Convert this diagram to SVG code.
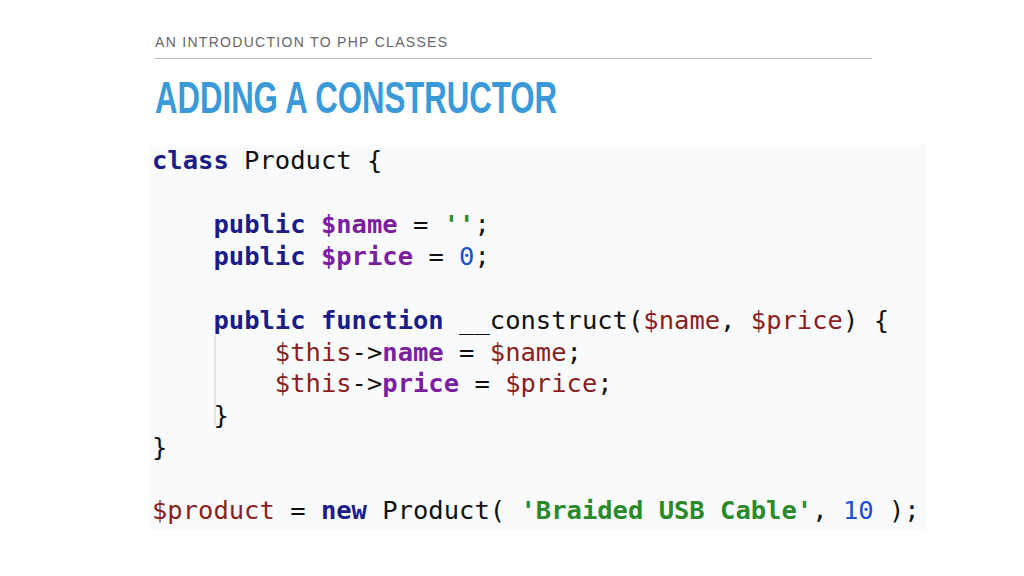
<svg xmlns="http://www.w3.org/2000/svg" width="1024" height="576" viewBox="0 0 1024 576">
<style>
.c{font-family:"DejaVu Sans Mono","Liberation Mono",monospace;font-size:25.5px;fill:#111;white-space:pre}
.k{fill:#1c1c86;font-weight:bold}
.v{fill:#7a1fa0;font-weight:bold}
.t{fill:#8a1f1f}
.s{fill:#2a8a2a;font-weight:bold}
.n{fill:#1a4fd6}
</style>
<rect width="1024" height="576" fill="#fff"/>
<text x="155" y="47" font-family="Liberation Sans, Arial, sans-serif" font-size="14" fill="#666" textLength="292" lengthAdjust="spacing">AN INTRODUCTION TO PHP CLASSES</text>
<line x1="155" y1="58.5" x2="872" y2="58.5" stroke="#bbb" stroke-width="1"/>
<text x="155" y="113" font-family="Liberation Sans, Arial, sans-serif" font-weight="bold" font-size="44" fill="#3a9ad9" textLength="402" lengthAdjust="spacingAndGlyphs">ADDING A CONSTRUCTOR</text>
<rect x="150" y="145" width="775" height="385" fill="#f9fafb"/>
<line x1="215" y1="335" x2="215" y2="425" stroke="#ddd" stroke-width="1.5"/>
<g xml:space="preserve">
<text class="c" x="152" y="169"><tspan class="k">class</tspan> Product {</text>
<text class="c" x="152" y="233">    <tspan class="k">public</tspan> <tspan class="v">$name</tspan> = <tspan class="s">''</tspan>;</text>
<text class="c" x="152" y="265">    <tspan class="k">public</tspan> <tspan class="v">$price</tspan> = <tspan class="n">0</tspan>;</text>
<text class="c" x="152" y="329">    <tspan class="k">public</tspan> <tspan class="k">function</tspan> __construct(<tspan class="t">$name</tspan>, <tspan class="t">$price</tspan>) {</text>
<text class="c" x="152" y="361">        <tspan class="t">$this</tspan>-&gt;<tspan class="v">name</tspan> = <tspan class="t">$name</tspan>;</text>
<text class="c" x="152" y="392">        <tspan class="t">$this</tspan>-&gt;<tspan class="v">price</tspan> = <tspan class="t">$price</tspan>;</text>
<text class="c" x="152" y="424">    }</text>
<text class="c" x="152" y="456">}</text>
<text class="c" x="152" y="519"><tspan class="t">$product</tspan> = <tspan class="k">new</tspan> Product( <tspan class="s">'Braided USB Cable'</tspan>, <tspan class="n">10</tspan> );</text>
</g>
</svg>
